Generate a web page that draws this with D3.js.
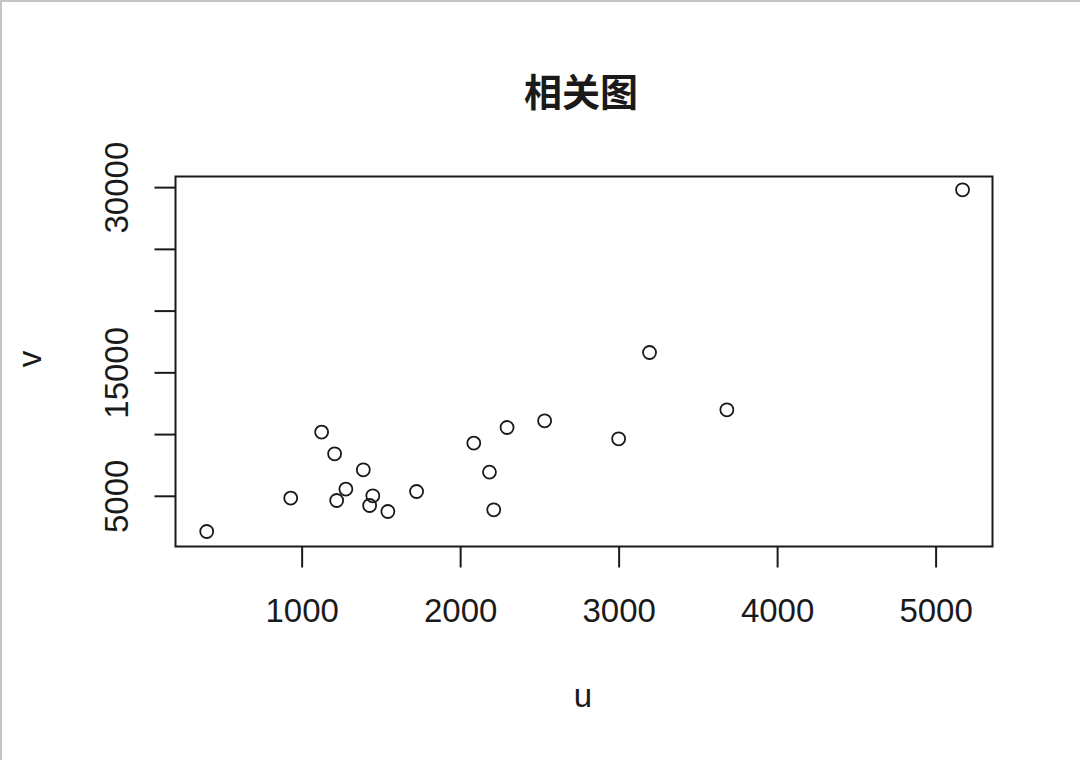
<!DOCTYPE html>
<html>
<head>
<meta charset="utf-8">
<script src="https://cdn.jsdelivr.net/npm/d3@7"></script>
<style>
  html, body { margin: 0; padding: 0; background: #fff; }
  svg { display: block; }
</style>
</head>
<body>
<svg id="chart" width="1080" height="760"></svg>
<script>
// ---- data ----
const uValues = [401, 931, 1126, 1208, 1389, 1279, 1221, 1449, 1429, 1544, 1725,
                 2086, 2185, 2212, 2296, 2533, 3000, 3195, 3683, 5170];
const vValues = [2109, 4814, 10159, 8402, 7106, 5543, 4619, 5000, 4214, 3728, 5348,
                 9268, 6919, 3866, 10532, 11074, 9617, 16606, 11965, 29783];
const xTicks = [1000, 2000, 3000, 4000, 5000];
const yTicks = [5000, 10000, 15000, 20000, 25000, 30000];
const yTickLabels = ["5000", "", "15000", "", "", "30000"];
const titleText = "相关图";
const xLabel = "u";
const yLabel = "v";

const svg = d3.select("#chart");
const W = 1080, H = 760;

// window frame border (top + left gray edge of the screenshot)
svg.append("line").attr("x1", 0).attr("x2", W).attr("y1", 1).attr("y2", 1)
  .attr("stroke", "#c4c4c4").attr("stroke-width", 2);
svg.append("line").attr("x1", 1).attr("x2", 1).attr("y1", 0).attr("y2", H)
  .attr("stroke", "#c4c4c4").attr("stroke-width", 2);

const plot = { left: 175.5, right: 992.5, top: 176.5, bottom: 546.5 };

const x = d3.scaleLinear().domain([204, 5359]).range([plot.left, plot.right]);
const y = d3.scaleLinear().domain([894, 30861]).range([plot.bottom, plot.top]);

const ink = "#1a1a1a";
const fontNum = "'Liberation Sans', Arial, sans-serif";

// box
svg.append("rect")
  .attr("x", plot.left).attr("y", plot.top)
  .attr("width", plot.right - plot.left).attr("height", plot.bottom - plot.top)
  .attr("fill", "none").attr("stroke", ink).attr("stroke-width", 2);

// x axis
const xAxis = d3.axisBottom(x).tickValues(xTicks).tickSize(21).tickPadding(30)
  .tickFormat(d3.format("d"));
const gx = svg.append("g").attr("transform", `translate(0,${plot.bottom})`).call(xAxis);
gx.select(".domain").remove();
gx.selectAll(".tick line").attr("stroke", ink).attr("stroke-width", 2);
gx.selectAll(".tick text")
  .attr("fill", ink).attr("font-family", fontNum).attr("font-size", 33)
  .attr("dy", null).attr("y", 75.5).attr("text-anchor", "middle");

// y axis
const yAxis = d3.axisLeft(y).tickValues(yTicks).tickSize(21)
  .tickFormat((d, i) => yTickLabels[i]);
const gy = svg.append("g").attr("transform", `translate(${plot.left},0)`).call(yAxis);
gy.select(".domain").remove();
gy.selectAll(".tick line").attr("stroke", ink).attr("stroke-width", 2);
gy.selectAll(".tick text")
  .attr("fill", ink).attr("font-family", fontNum).attr("font-size", 33)
  .attr("x", null).attr("dy", null)
  .attr("text-anchor", "middle")
  .attr("transform", "translate(-47.5,0) rotate(-90)");

// points
svg.append("g").selectAll("circle")
  .data(uValues.map((u, i) => ({ u, v: vValues[i] })))
  .join("circle")
  .attr("cx", d => x(d.u)).attr("cy", d => y(d.v))
  .attr("r", 6.5)
  .attr("fill", "none").attr("stroke", ink).attr("stroke-width", 1.8);

// title
svg.append("text")
  .attr("x", 581).attr("y", 106)
  .attr("text-anchor", "middle")
  .attr("font-family", "'Noto Sans CJK SC', sans-serif")
  .attr("font-weight", "bold").attr("font-size", 38)
  .attr("fill", ink)
  .text(titleText);

// axis titles
svg.append("text")
  .attr("x", 583).attr("y", 707)
  .attr("text-anchor", "middle")
  .attr("font-family", fontNum).attr("font-size", 33)
  .attr("fill", ink).text(xLabel);

svg.append("text")
  .attr("transform", "translate(41,359) rotate(-90)")
  .attr("text-anchor", "middle")
  .attr("font-family", fontNum).attr("font-size", 33)
  .attr("fill", ink).text(yLabel);
</script>
</body>
</html>
